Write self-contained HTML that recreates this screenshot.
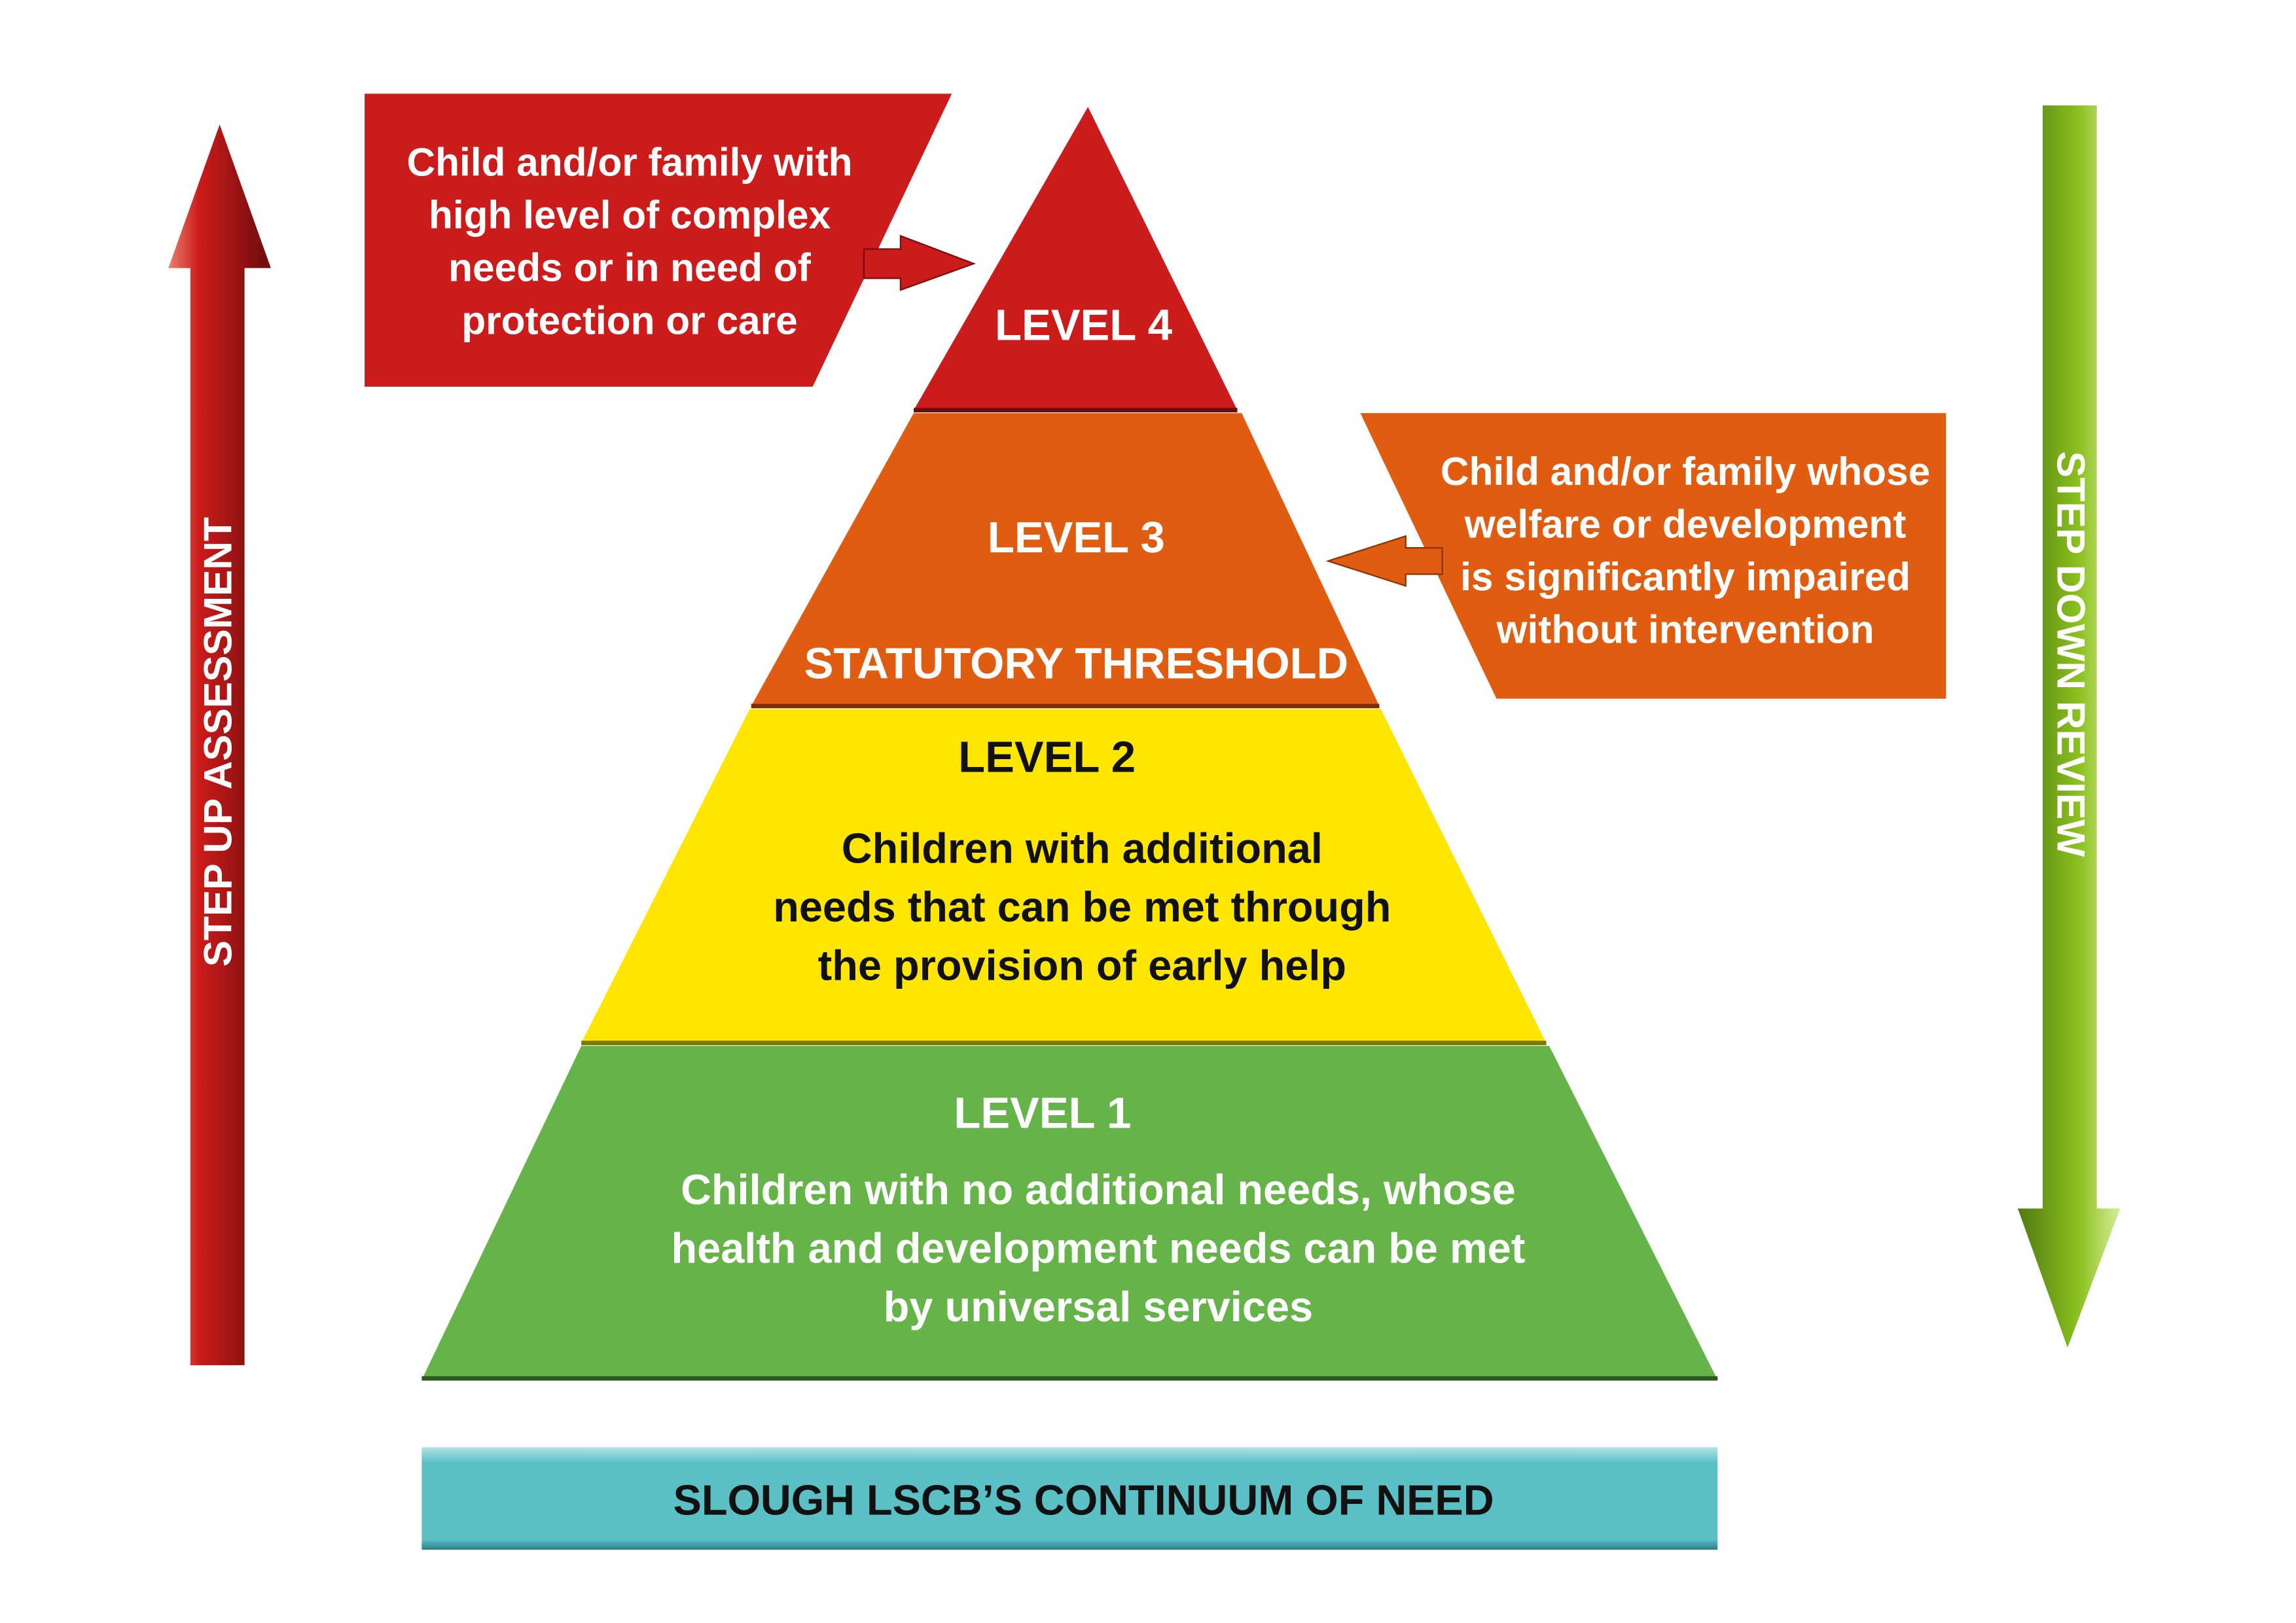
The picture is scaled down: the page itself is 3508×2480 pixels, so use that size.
<!DOCTYPE html>
<html><head><meta charset="utf-8"><style>
html,body{margin:0;padding:0;background:#fff;}
svg{display:block;}
text{font-family:"Liberation Sans",sans-serif;font-weight:bold;}
</style></head><body>
<svg width="3508" height="2480" viewBox="0 0 1568 1108" preserveAspectRatio="none" xmlns="http://www.w3.org/2000/svg">
<defs>
<linearGradient id="rv" x1="0" x2="1"><stop offset="0" stop-color="#e8806e"/><stop offset="0.3" stop-color="#cc1b1b"/><stop offset="1" stop-color="#6a0d0d"/></linearGradient>
<linearGradient id="gv" x1="0" x2="1"><stop offset="0" stop-color="#4f7a12"/><stop offset="0.6" stop-color="#8cc21f"/><stop offset="1" stop-color="#d6ec9a"/></linearGradient>
<linearGradient id="bar" x1="0" y1="0" x2="0" y2="1"><stop offset="0" stop-color="#b4e4e7"/><stop offset="0.15" stop-color="#5bbfc6"/><stop offset="0.9" stop-color="#5bbfc6"/><stop offset="1" stop-color="#2f7f86"/></linearGradient>
</defs>
<polygon points="150,85 185,183 167,183 167,932 130,932 130,183 115,183" fill="url(#rv)"/>
<text transform="translate(158,660) rotate(-90)" font-size="27" fill="#fff">STEP UP ASSESSMENT</text>
<polygon points="1395,72 1432,72 1432,825 1448,825 1412,920 1378,825 1395,825" fill="url(#gv)"/>
<text transform="translate(1405,308) rotate(90)" font-size="27" fill="#fff">STEP DOWN REVIEW</text>
<polygon points="743,73 845,280 624,280" fill="#cc1b1b"/>
<line x1="624" y1="280" x2="845" y2="280" stroke="#6a0d0d" stroke-width="3"/>
<polygon points="624,282 848,282 942,482 513,482" fill="#e05c10"/>
<line x1="513" y1="482" x2="942" y2="482" stroke="#7a2e05" stroke-width="3"/>
<polygon points="512,484 943,484 1056,712 397,712" fill="#ffe600"/>
<line x1="397" y1="712" x2="1056" y2="712" stroke="#7a7a00" stroke-width="3"/>
<polygon points="397,714 1058,714 1173,942 288,942" fill="#66b34a"/>
<line x1="288" y1="941" x2="1173" y2="941" stroke="#2d5a1e" stroke-width="3"/>
<text x="740" y="232" font-size="30" fill="#fff" text-anchor="middle">LEVEL 4</text>
<text x="735" y="377" font-size="30" fill="#fff" text-anchor="middle">LEVEL 3</text>
<text x="735" y="463" font-size="30" fill="#fff" text-anchor="middle">STATUTORY THRESHOLD</text>
<text x="715" y="527" font-size="30" fill="#111" text-anchor="middle">LEVEL 2</text>
<g font-size="29" fill="#111" text-anchor="middle"><text x="739" y="589">Children with additional</text><text x="739" y="629">needs that can be met through</text><text x="739" y="669">the provision of early help</text></g>
<text x="712" y="770" font-size="30" fill="#fff" text-anchor="middle">LEVEL 1</text>
<g font-size="29" fill="#fff" text-anchor="middle"><text x="750" y="822">Children with no additional needs, whose</text><text x="750" y="862">health and development needs can be met</text><text x="750" y="902">by universal services</text></g>
<rect x="288" y="988" width="885" height="70" fill="url(#bar)"/>
<text x="740" y="1034" font-size="29" fill="#111" text-anchor="middle">SLOUGH LSCB’S CONTINUUM OF NEED</text>
<polygon points="249,64 650,64 555,264 249,264" fill="#cc1b1b"/>
<polygon points="590,170 615,170 615,161 665,180 615,198 615,190 590,190" fill="#cc1b1b" stroke="#7a0d0d" stroke-width="1"/>
<g font-size="27" fill="#fff" text-anchor="middle"><text x="430" y="120">Child and/or family with</text><text x="430" y="156">high level of complex</text><text x="430" y="192">needs or in need of</text><text x="430" y="228">protection or care</text></g>
<polygon points="929,282 1329,282 1329,477 1022,477" fill="#e05c10"/>
<polygon points="985,374 960,374 960,366 907,383 960,400 960,392 985,392" fill="#e05c10" stroke="#8a3306" stroke-width="1"/>
<g font-size="27" fill="#fff" text-anchor="middle"><text x="1151" y="331">Child and/or family whose</text><text x="1151" y="367">welfare or development</text><text x="1151" y="403">is significantly impaired</text><text x="1151" y="439">without intervention</text></g>
</svg>
</body></html>
